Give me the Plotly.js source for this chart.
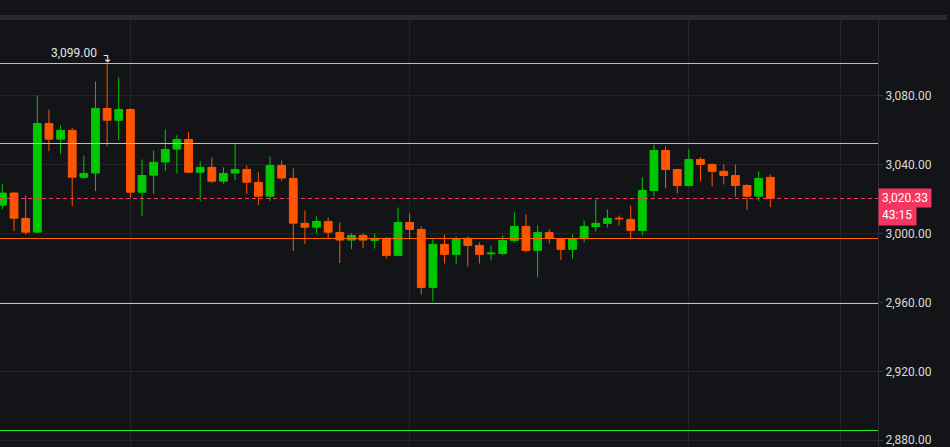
<!DOCTYPE html>
<html>
<head>
<meta charset="utf-8">
<script src="https://cdn.plot.ly/plotly-3.0.1.min.js"></script>
<style>
  html, body { margin: 0; padding: 0; background: #131417; }
  #chart { width: 950px; height: 447px; }
</style>
</head>
<body>
<div id="chart"></div>
<script>
const openPrices = [3016.5, 3023.5, 3008.8, 3000.8, 3063.9, 3054.8, 3059.9, 3032.7, 3035.1, 3072.6,
  3065.8, 3072.0, 3024.0, 3033.9, 3041.5, 3049.0, 3054.6, 3035.6, 3038.4, 3030.4,
  3035.1, 3037.2, 3029.7, 3021.7, 3039.5, 3032.0, 3005.9, 3003.7, 3007.0, 3000.6,
  2996.2, 2998.9, 2996.0, 2997.2, 2987.3, 3006.4, 3002.4, 2968.7, 2993.7, 2987.9,
  2997.2, 2993.1, 2988.2, 2988.4, 2996.0, 3004.1, 2990.2, 3000.6, 2997.0, 2990.8,
  2997.0, 3004.1, 3005.9, 3008.9, 3008.2, 3001.8, 3025.0, 3048.2, 3037.2, 3027.9,
  3043.0, 3040.1, 3036.1, 3033.7, 3027.9, 3021.7, 3032.6];
const highPrices = [3028.5, 3024.0, 3022.1, 3080.2, 3072.0, 3062.8, 3061.2, 3045.3, 3088.3, 3099.0,
  3090.6, 3072.8, 3043.0, 3048.2, 3060.4, 3057.0, 3058.9, 3041.9, 3044.2, 3038.4,
  3051.9, 3039.5, 3035.5, 3044.7, 3042.4, 3037.8, 3013.4, 3009.9, 3009.3, 3006.4,
  3000.1, 3000.1, 3000.1, 2997.7, 3015.1, 3011.6, 3004.1, 2996.6, 2999.5, 2998.3,
  2998.3, 2994.8, 2993.1, 2998.9, 3012.3, 3011.0, 3004.7, 3002.4, 2997.2, 2999.5,
  3007.6, 3019.8, 3014.0, 3010.5, 3016.2, 3032.6, 3051.7, 3050.6, 3037.5, 3048.8,
  3044.2, 3040.7, 3040.1, 3040.1, 3028.5, 3036.1, 3034.3];
const lowPrices = [3014.2, 3001.4, 2999.5, 3000.1, 3047.8, 3046.1, 3015.9, 3031.6, 3024.6, 3050.7,
  3054.2, 3020.6, 3010.1, 3022.9, 3036.2, 3034.7, 3035.1, 3018.8, 3029.3, 3028.9,
  3031.0, 3022.9, 3016.5, 3018.8, 3030.4, 2989.8, 2993.9, 3000.2, 2997.3, 2982.8,
  2990.9, 2991.5, 2991.3, 2985.5, 2986.8, 2997.2, 2964.6, 2960.6, 2982.6, 2982.1,
  2980.9, 2982.6, 2984.4, 2987.3, 2994.8, 2989.0, 2974.5, 2994.3, 2984.6, 2985.5,
  2995.0, 3001.2, 3003.5, 3004.7, 2997.2, 2998.9, 3021.5, 3026.2, 3023.3, 3027.3,
  3030.2, 3027.3, 3028.5, 3021.5, 3013.6, 3018.8, 3015.3];
const closePrices = [3023.5, 3008.9, 3000.8, 3063.9, 3054.8, 3059.9, 3032.7, 3034.9, 3072.6, 3065.8,
  3072.0, 3024.0, 3033.7, 3041.3, 3048.8, 3054.6, 3035.6, 3038.4, 3030.4, 3034.9,
  3037.2, 3029.8, 3021.7, 3039.5, 3032.2, 3006.0, 3003.7, 3007.0, 3000.8, 2996.2,
  2998.9, 2996.2, 2997.2, 2987.3, 3006.4, 3002.4, 2968.7, 2993.7, 2987.9, 2996.6,
  2993.1, 2987.9, 2988.6, 2996.0, 3004.1, 2990.2, 3000.6, 2997.2, 2990.8, 2997.0,
  3004.1, 3005.9, 3008.8, 3008.6, 3001.8, 3025.0, 3048.2, 3037.2, 3027.9, 3043.0,
  3040.1, 3036.1, 3033.7, 3027.9, 3021.7, 3032.0, 3020.33];

const priceTicks = [2880, 2920, 2960, 3000, 3040, 3080];
const timeGridBars = [12, 36, 60, 73];
const levelLines = [3098.7, 3052.26, 2959.37];
const mainLevel = 2997.1;
const supportLine = 2885.64;
const lastPrice = 3020.33;
const lastPriceText = "3,020.33";
const countdownText = "43:15";
const highLabel = "3,099.00";
const highBar = 10;

const barIndex = openPrices.map((_, i) => i + 1);

const UP = '#00c800', DOWN = '#ff5500', BG = '#131417', GRID = '#232428';
const LABEL = '#f2365f';

const trace = {
  type: 'candlestick',
  x: barIndex,
  open: openPrices, high: highPrices, low: lowPrices, close: closePrices,
  increasing: { line: { color: UP, width: 1 }, fillcolor: UP },
  decreasing: { line: { color: DOWN, width: 1 }, fillcolor: DOWN },
  whiskerwidth: 0,
  hoverinfo: 'skip',
  showlegend: false
};

const shapes = [];
levelLines.forEach((v) => {
  shapes.push({ type: 'line', xref: 'paper', x0: 0, x1: 1, yref: 'y', y0: v, y1: v,
    line: { color: '#e9b48c', width: 1 }, layer: 'above' });
});
shapes.push({ type: 'line', xref: 'paper', x0: 0, x1: 1, yref: 'y', y0: mainLevel, y1: mainLevel,
  line: { color: '#ff6000', width: 1 }, layer: 'above' });
shapes.push({ type: 'line', xref: 'paper', x0: 0, x1: 1, yref: 'y', y0: supportLine, y1: supportLine,
  line: { color: '#22ee22', width: 1 }, layer: 'above' });
shapes.push({ type: 'line', xref: 'paper', x0: 0, x1: 1, yref: 'y', y0: lastPrice, y1: lastPrice,
  line: { color: LABEL, width: 1, dash: '4px,3px' }, layer: 'above' });
// top panel border band
shapes.push({ type: 'rect', xref: 'paper', x0: 0, x1: 947 / 878, yref: 'paper', y0: 1, y1: 1 + 5 / 427,
  fillcolor: '#2a2a2d', line: { width: 0 } });

const annotations = [
  { xref: 'paper', x: 1, xanchor: 'left', yref: 'y', y: lastPrice, yanchor: 'middle', yshift: 1,
    text: lastPriceText, showarrow: false, align: 'left', width: 46, height: 11.5, borderpad: 3,
    bgcolor: LABEL, font: { family: 'Roboto', size: 12, color: '#ffffff' } },
  { xref: 'paper', x: 1, xanchor: 'left', yref: 'y', y: lastPrice, yanchor: 'middle', yshift: -16.8,
    text: countdownText, showarrow: false, align: 'left', width: 31, height: 12.5, borderpad: 3,
    bgcolor: LABEL, font: { family: 'Roboto', size: 12, color: '#ffffff' } },
  { xref: 'x', x: highBar, yref: 'y', y: highPrices[highBar - 1], xanchor: 'right', yanchor: 'middle',
    xshift: -8, yshift: 10, text: highLabel, showarrow: false,
    font: { family: 'Roboto', size: 12, color: '#e6e6e6' } },
  { xref: 'x', x: highBar, yref: 'y', y: highPrices[highBar - 1], xanchor: 'center', yanchor: 'middle',
    xshift: -1, yshift: 5, text: '↴', showarrow: false,
    font: { family: 'DejaVu Sans', size: 12, color: '#e6e6e6' } }
];

const layout = {
  width: 950, height: 447,
  margin: { l: 0, r: 72, t: 20, b: 0, pad: 0 },
  paper_bgcolor: BG, plot_bgcolor: BG,
  boxgap: 0.33, boxgroupgap: 0,
  xaxis: {
    type: 'linear', range: [0.7937, 76.256], tickvals: timeGridBars,
    showticklabels: false, ticks: '', showgrid: true, gridcolor: GRID, gridwidth: 1,
    zeroline: false, showline: false, rangeslider: { visible: false }, fixedrange: true
  },
  yaxis: {
    side: 'right', range: [2876.06, 3123.96], tickvals: priceTicks, tickformat: ',.2f',
    showgrid: true, gridcolor: GRID, zeroline: false,
    showline: true, linecolor: '#2e2f33', linewidth: 1,
    ticks: 'outside', ticklen: 4, tickcolor: '#3a3b3f', ticklabeloverflow: 'allow',
    tickfont: { family: 'Roboto', size: 12, color: '#dadada' }, fixedrange: true
  },
  shapes: shapes,
  annotations: annotations,
  showlegend: false,
  dragmode: false
};

Plotly.newPlot('chart', [trace], layout, { displayModeBar: false, staticPlot: true });
</script>
</body>
</html>
